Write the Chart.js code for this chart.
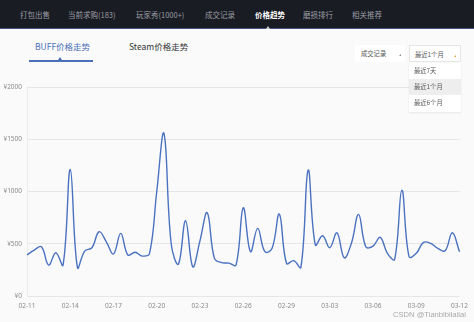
<!DOCTYPE html>
<html><head><meta charset="utf-8">
<script src="https://cdn.jsdelivr.net/npm/chart.js@4/dist/chart.umd.min.js"></script>
<style>
html,body{margin:0;padding:0;width:474px;height:322px;overflow:hidden;background:#fafafa;font-family:"Noto Sans CJK SC","Noto Sans",sans-serif;}
#nav{position:absolute;left:0;top:0;width:474px;height:28px;background:#1a1c24;border-bottom:1px solid #46557f;}
#nav span{position:absolute;top:8px;font-size:7.5px;line-height:14px;color:#9a9ca3;white-space:nowrap;}
#nav span.on{color:#fff;font-weight:bold;}
#tri{position:absolute;left:266px;top:26px;width:0;height:0;border-left:2px solid transparent;border-right:2px solid transparent;border-bottom:3px solid #c9cbd2;}
.tab{position:absolute;top:38px;font-size:8.5px;line-height:16px;white-space:nowrap;}
#t1{left:35px;color:#4a6fb8;}
#t2{left:129px;color:#333;}
#ul{position:absolute;left:29px;top:60px;width:64px;height:1.5px;background:#4a6fb8;}
#ultri{position:absolute;left:58px;top:57px;width:0;height:0;border-left:2px solid transparent;border-right:2px solid transparent;border-bottom:3px solid #4a6fb8;}
.sel{position:absolute;top:45px;height:17px;background:#fff;font-size:6.3px;line-height:17px;color:#555;white-space:nowrap;}
.sel i{position:absolute;right:4px;top:9px;width:0;height:0;border-left:2px solid transparent;border-bottom:2px solid #888;}
#s1{left:355px;width:50px;}
#s1 span{margin-left:6px;}
#s2{left:409px;width:52px;border:1px solid #e6e6e6;box-sizing:border-box;}
#s2 span{margin-left:5px;}
#s2 i{border-bottom-color:#e0a030;}
#menu{position:absolute;left:409px;top:63px;width:52px;height:49px;background:#fff;box-shadow:0 1px 2px rgba(0,0,0,0.08);font-size:6.3px;color:#555;z-index:5;}
#menu div{height:16px;line-height:16px;padding-left:5px;}
#menu div.hl{background:#eeeeee;}
#wm{position:absolute;left:393px;top:310px;font-family:"Liberation Sans",Arial,sans-serif;font-size:7.6px;color:#a8a8a8;white-space:nowrap;z-index:5;}
#c{position:absolute;left:0;top:0;z-index:1;}
</style></head>
<body>
<div id="nav">
<span style="left:20px">打包出售</span>
<span style="left:68px">当前求购(183)</span>
<span style="left:136px">玩家秀(1000+)</span>
<span style="left:205px">成交记录</span>
<span class="on" style="left:255px">价格趋势</span>
<span style="left:303px">磨损排行</span>
<span style="left:352px">相关推荐</span>
<div id="tri"></div>
</div>
<div class="tab" id="t1">BUFF价格走势</div>
<div class="tab" id="t2">Steam价格走势</div>
<div id="ul"></div><div id="ultri"></div>
<div class="sel" id="s1"><span>成交记录</span><i></i></div>
<div class="sel" id="s2"><span>最近1个月</span><i></i></div>
<div id="menu"><div>最近7天</div><div class="hl">最近1个月</div><div>最近6个月</div></div>
<canvas id="c" width="474" height="322"></canvas>
<div id="wm">CSDN @Tianbibilailai</div>
<script>
const categories = [
'02-11','02-11 12:00','02-12','02-12 12:00','02-13','02-13 12:00','02-14','02-14 12:00',
'02-15','02-15 12:00','02-16','02-16 12:00','02-17','02-17 12:00','02-18','02-18 12:00',
'02-19','02-19 12:00','02-20','02-20 12:00','02-21','02-21 12:00','02-22','02-22 12:00',
'02-23','02-23 12:00','02-24','02-24 12:00','02-25','02-25 12:00','02-26','02-26 12:00',
'02-27','02-27 12:00','02-28','02-28 12:00','02-29','02-29 12:00','03-01','03-01 12:00',
'03-02','03-02 12:00','03-03','03-03 12:00','03-04','03-04 12:00','03-05','03-05 12:00',
'03-06','03-06 12:00','03-07','03-07 12:00','03-08','03-08 12:00','03-09','03-09 12:00',
'03-10','03-10 12:00','03-11','03-11 12:00','03-12'
];
const buffPrices = [
392,440,471,296,414,296,1211,271,430,462,615,519,402,599,392,418,
382,408,1000,1555,500,306,720,280,530,797,360,319,315,296,844,424,
647,424,456,784,312,338,274,1205,488,576,462,605,366,504,781,471,
478,561,408,351,1013,376,408,513,504,456,433,605,424
];
const tickLabels = ['02-11','02-14','02-17','02-20','02-23','02-26','02-29','03-03','03-06','03-09','03-12'];
const yTicks = [0,500,1000,1500,2000];

new Chart(document.getElementById('c'), {
  type: 'line',
  data: { labels: categories, datasets: [{
    data: buffPrices, borderColor: '#4a72c0', borderWidth: 1.4,
    pointRadius: 0, pointHoverRadius: 0, tension: 0.4, fill: false
  }]},
  options: {
    responsive: false, animation: false,
    layout: { padding: { top: 87, left: 0, right: 14, bottom: 0 } },
    plugins: { legend: { display: false }, tooltip: { enabled: false } },
    scales: {
      x: {
        grid: { display: false, drawTicks: false },
        border: { display: false },
        afterFit: s => { s.height = 26; },
        ticks: {
          autoSkip: false, maxRotation: 0, padding: 6, color: '#8a8a8a',
          font: { size: 6.5, family: '"Noto Sans","DejaVu Sans",sans-serif' },
          callback: function(v) { const l = categories[v]; return tickLabels.includes(l) ? l : null; }
        }
      },
      y: {
        min: 0, max: 2000,
        afterFit: s => { s.width = 27; },
        afterBuildTicks: s => { s.ticks = yTicks.map(v => ({ value: v })); },
        grid: { color: '#e6e6e6', lineWidth: 1, drawTicks: false },
        border: { display: true, color: '#ececec' },
        ticks: {
          padding: 5, color: '#8a8a8a',
          font: { size: 6.5, family: '"Noto Sans","DejaVu Sans",sans-serif' },
          callback: v => '¥' + v
        }
      }
    }
  }
});
</script>
</body></html>
